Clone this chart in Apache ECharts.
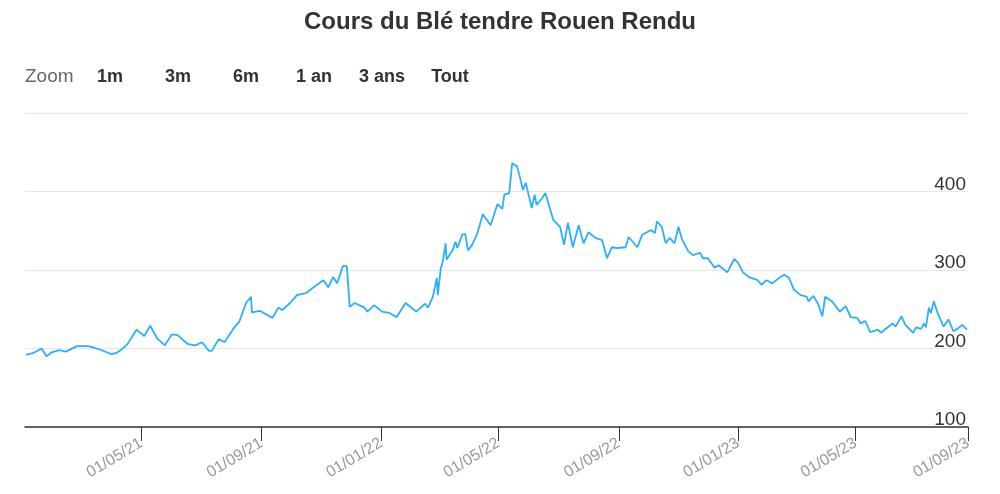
<!DOCTYPE html>
<html>
<head>
<meta charset="utf-8">
<title>Cours du Blé tendre Rouen Rendu</title>
<script src="https://cdn.jsdelivr.net/npm/echarts@6/dist/echarts.min.js"></script>
<style>
  html, body { margin: 0; padding: 0; background: #fff; }
  #chart { width: 1000px; height: 494px; }
</style>
</head>
<body>
<div id="chart"></div>
<script>
// dates de cotation
const dates = [
  '2021-01-03','2021-01-10','2021-01-19','2021-01-24','2021-01-29','2021-02-06','2021-02-13','2021-02-24',
  '2021-03-08','2021-03-19','2021-03-31','2021-04-05','2021-04-10','2021-04-17','2021-04-26','2021-05-04',
  '2021-05-10','2021-05-17','2021-05-25','2021-06-01','2021-06-07','2021-06-17','2021-06-25','2021-07-02',
  '2021-07-09','2021-07-12','2021-07-19','2021-07-25','2021-08-04','2021-08-09','2021-08-16','2021-08-21',
  '2021-08-22','2021-08-30','2021-09-12','2021-09-18','2021-09-22','2021-09-30','2021-10-07','2021-10-17',
  '2021-10-23','2021-11-03','2021-11-08','2021-11-13','2021-11-17','2021-11-23','2021-11-27','2021-11-30',
  '2021-12-05','2021-12-15','2021-12-18','2021-12-25','2022-01-02','2022-01-10','2022-01-17','2022-01-22',
  '2022-01-26','2022-02-01','2022-02-06','2022-02-15','2022-02-18','2022-02-23','2022-02-27','2022-02-28',
  '2022-03-03','2022-03-05','2022-03-08','2022-03-09','2022-03-15','2022-03-18','2022-03-20','2022-03-25',
  '2022-03-28','2022-03-31','2022-04-04','2022-04-09','2022-04-15','2022-04-23','2022-04-30','2022-05-05',
  '2022-05-07','2022-05-12','2022-05-15','2022-05-20','2022-05-23','2022-05-26','2022-05-29','2022-06-04',
  '2022-06-07','2022-06-09','2022-06-15','2022-06-18','2022-06-26','2022-07-03','2022-07-07','2022-07-11',
  '2022-07-16','2022-07-22','2022-07-27','2022-08-01','2022-08-08','2022-08-15','2022-08-20','2022-08-25',
  '2022-08-31','2022-09-08','2022-09-11','2022-09-20','2022-09-25','2022-10-04','2022-10-08','2022-10-10',
  '2022-10-15','2022-10-19','2022-10-23','2022-10-28','2022-11-01','2022-11-05','2022-11-11','2022-11-16',
  '2022-11-23','2022-11-26','2022-12-01','2022-12-08','2022-12-12','2022-12-21','2022-12-28','2023-01-01',
  '2023-01-06','2023-01-12','2023-01-21','2023-01-25','2023-01-30','2023-02-05','2023-02-12','2023-02-17',
  '2023-02-22','2023-02-27','2023-03-06','2023-03-12','2023-03-14','2023-03-19','2023-03-24','2023-03-28',
  '2023-03-31','2023-04-07','2023-04-15','2023-04-21','2023-04-26','2023-05-03','2023-05-06','2023-05-11',
  '2023-05-16','2023-05-24','2023-05-27','2023-06-03','2023-06-08','2023-06-11','2023-06-17','2023-06-21',
  '2023-06-29','2023-07-02','2023-07-07','2023-07-10','2023-07-12','2023-07-15','2023-07-17','2023-07-20',
  '2023-07-24','2023-07-30','2023-08-04','2023-08-09','2023-08-13','2023-08-18','2023-08-23'
];
// prix en €/t
const prix = [
  192,194,200,190,195,198,196,203,
  203,199,193,194,198,206,224,216,
  229,213,204,218,217,206,204,208,
  197,197,212,208,227,234,258,266,
  246,248,239,252,249,258,268,271,
  277,287,278,291,283,305,305,253,
  258,252,247,255,247,245,240,250,
  258,252,247,257,252,266,290,268,
  302,310,334,313,325,336,328,345,
  346,325,332,345,371,357,384,378,
  396,398,436,432,418,402,411,379,
  396,383,392,398,364,355,332,360,
  329,357,334,348,341,338,315,329,
  328,329,342,329,345,351,347,362,
  355,334,341,334,355,338,324,319,
  322,315,315,303,306,297,314,309,
  297,291,287,281,287,283,290,294,
  290,275,268,266,260,267,256,241,
  266,260,247,254,240,239,232,235,
  221,224,220,227,232,228,241,230,
  220,227,225,232,227,252,245,260,
  245,228,237,222,225,230,224
];
const debut = '2021-01-02';
const fin = '2023-08-24';
const moisTicks = ['2021-05-01','2021-09-01','2022-01-01','2022-05-01','2022-09-01','2023-01-01','2023-05-01', fin];
const boutonsZoom = ['1m', '3m', '6m', '1 an', '3 ans', 'Tout'];

function ts(s) {
  const p = s.split('-');
  return new Date(+p[0], +p[1] - 1, +p[2]).getTime();
}
function pad(n) { return n < 10 ? '0' + n : '' + n; }
// étiquette : premier jour du mois le plus proche
function labelMois(v) {
  const d = new Date(v);
  let m = new Date(d.getFullYear(), d.getMonth(), 1);
  const suiv = new Date(d.getFullYear(), d.getMonth() + 1, 1);
  if (suiv - d < d - m) m = suiv;
  return pad(m.getDate()) + '/' + pad(m.getMonth() + 1) + '/' + pad(m.getFullYear() % 100);
}

const font = 'Liberation Sans, Arial, sans-serif';
const chart = echarts.init(document.getElementById('chart'));

const tickValues = moisTicks.map(ts);

const graphics = [{
  type: 'text',
  x: 25,
  y: 77,
  style: { text: 'Zoom', fill: '#666', font: '19px ' + font, verticalAlign: 'middle' }
}];
boutonsZoom.forEach(function (b, i) {
  graphics.push({
    type: 'text',
    x: 110 + i * 68,
    y: 77,
    style: {
      text: b, fill: '#333', font: 'bold 18px ' + font,
      align: 'center', verticalAlign: 'middle'
    }
  });
});

chart.setOption({
  animation: false,
  title: {
    text: 'Cours du Blé tendre Rouen Rendu',
    left: 'center',
    top: 5,
    textStyle: { fontSize: 24, fontWeight: 'bold', color: '#333', fontFamily: font }
  },
  graphic: graphics,
  grid: { left: 25, right: 32, top: 113, bottom: 67 },
  xAxis: {
    type: 'value',
    min: ts(debut),
    max: ts(fin),
    axisLine: { show: true, lineStyle: { color: '#333', width: 1.5 } },
    axisTick: { show: true, length: 14, customValues: tickValues, lineStyle: { color: '#333', width: 1 } },
    splitLine: { show: false },
    axisLabel: {
      customValues: tickValues,
      rotate: 31,
      margin: 15,
      color: '#999',
      fontSize: 16,
      fontFamily: font,
      formatter: labelMois
    }
  },
  yAxis: {
    type: 'value',
    position: 'right',
    min: 100,
    max: 500,
    interval: 100,
    axisLine: { show: false },
    axisTick: { show: false },
    splitLine: { lineStyle: { color: '#e6e6e6', width: 1 } },
    axisLabel: {
      inside: true,
      margin: 2,
      verticalAlign: 'bottom',
      lineHeight: 14,
      showMaxLabel: false,
      color: '#333',
      fontSize: 19,
      fontFamily: font
    }
  },
  series: [{
    type: 'line',
    data: dates.map(function (d, i) { return [ts(d), prix[i]]; }),
    showSymbol: false,
    lineStyle: { color: '#2caffe', width: 1.8 },
    itemStyle: { color: '#2caffe' }
  }]
});
</script>
</body>
</html>
